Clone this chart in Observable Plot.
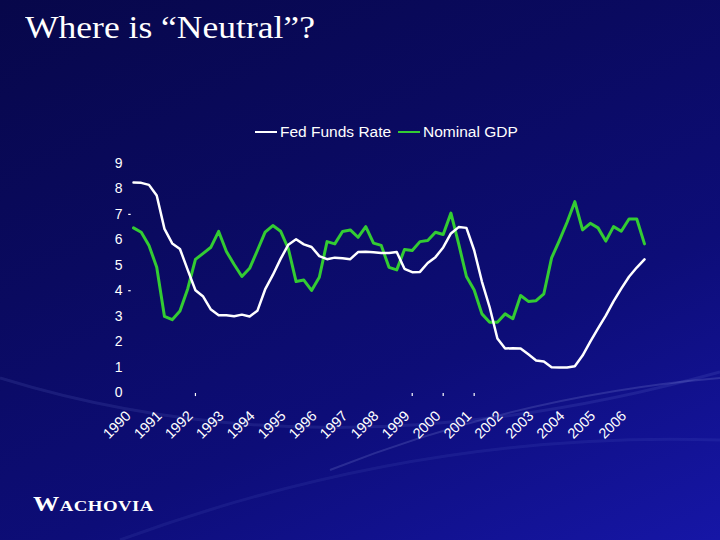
<!DOCTYPE html>
<html>
<head>
<meta charset="utf-8">
<script src="https://cdn.jsdelivr.net/npm/d3@7"></script>
<script src="https://cdn.jsdelivr.net/npm/@observablehq/plot@0.6"></script>
<style>
  html, body { margin: 0; padding: 0; background: #0a0a55; }
  #slide {
    position: relative; width: 720px; height: 540px; overflow: hidden;
    background: linear-gradient(155deg, #07074a 0%, #0a0a60 35%, #0d0d78 65%, #1616a6 100%);
    font-family: "Liberation Sans", Arial, sans-serif;
  }
  #deco { position: absolute; left: 0; top: 0; }
  #title {
    position: absolute; left: 25px; top: 9px; color: #fff;
    font-family: "Liberation Serif", "Times New Roman", serif; font-size: 32px; line-height: normal;
    white-space: nowrap; transform-origin: left top; transform: scaleX(1.11);
  }
  .leg { position: absolute; top: 122px; color: #fff; font-size: 15.5px; white-space: nowrap; line-height: 19px; }
  .sw { position: absolute; height: 2px; top: 131px; }
  #chart { position: absolute; left: 0; top: 0; }
  #logo {
    position: absolute; left: 33px; top: 492px; color: #fff;
    font-family: "Liberation Serif", "Times New Roman", serif; font-weight: bold;
    font-size: 21px; font-variant: small-caps; letter-spacing: 0.4px; line-height: normal;
    transform-origin: left top; transform: scaleX(1.25); white-space: nowrap;
  }
</style>
</head>
<body>
<div id="slide">
  <svg id="deco" width="720" height="540">
    <path d="M0,378 Q330,480 720,372" fill="none" stroke="#9fb0ff" stroke-opacity="0.11" stroke-width="3"/>
    <path d="M330,470 Q520,395 720,378" fill="none" stroke="#b8c4ff" stroke-opacity="0.16" stroke-width="2"/>
    <path d="M120,540 Q420,430 720,440" fill="none" stroke="#9fb0ff" stroke-opacity="0.08" stroke-width="3"/>
  </svg>
  <div id="title">Where is “Neutral”?</div>
  <div class="sw" style="left:255px;width:22px;background:#ffffff;"></div>
  <div class="leg" style="left:280px;">Fed Funds Rate</div>
  <div class="sw" style="left:398px;width:22px;background:#33cc33;"></div>
  <div class="leg" style="left:423px;">Nominal GDP</div>
  <div id="chart"></div>
  <div id="logo">Wachovia</div>
</div>
<script>
// Quarterly data, 1990Q1 .. 2006Q3
const years = ["1990","1991","1992","1993","1994","1995","1996","1997","1998","1999","2000","2001","2002","2003","2004","2005","2006"];
const fedFunds = [
  8.25, 8.24, 8.16, 7.74,
  6.43, 5.86, 5.64, 4.82,
  4.02, 3.77, 3.26, 3.04,
  3.04, 3.00, 3.06, 2.99,
  3.21, 4.05, 4.62, 5.25,
  5.81, 6.02, 5.82, 5.72,
  5.36, 5.24, 5.30, 5.28,
  5.24, 5.52, 5.53, 5.51,
  5.48, 5.48, 5.52, 4.86,
  4.73, 4.74, 5.09, 5.32,
  5.70, 6.25, 6.50, 6.47,
  5.59, 4.36, 3.35, 2.12,
  1.73, 1.74, 1.73, 1.50,
  1.26, 1.22, 0.99, 0.98,
  0.98, 1.03, 1.45, 2.00,
  2.52, 3.02, 3.58, 4.08,
  4.55, 4.91, 5.23
];
const nominalGDP = [
  6.47, 6.30, 5.78, 4.92,
  2.99, 2.86, 3.20, 4.07,
  5.23, 5.47, 5.71, 6.33,
  5.54, 5.03, 4.56, 4.88,
  5.58, 6.30, 6.56, 6.34,
  5.65, 4.36, 4.42, 4.01,
  4.53, 5.93, 5.84, 6.33,
  6.39, 6.10, 6.52, 5.87,
  5.78, 4.92, 4.82, 5.62,
  5.58, 5.93, 5.97, 6.30,
  6.21, 7.05, 5.84, 4.56,
  4.03, 3.09, 2.76, 2.76,
  3.09, 2.90, 3.81, 3.58,
  3.61, 3.88, 5.29, 5.97,
  6.69, 7.50, 6.39, 6.65,
  6.47, 5.95, 6.52, 6.34,
  6.82, 6.82, 5.84
];
const yTickMarks = [7, 4];
const xTickMarkYears = ["1992","1999","2000","2001"];

const fedData = fedFunds.map((v, i) => ({i, v}));
const gdpData = nominalGDP.map((v, i) => ({i, v}));
const yearData = years.map((y, k) => ({i: k * 4, label: y}));
const xTickData = xTickMarkYears.map(y => ({i: years.indexOf(y) * 4}));

const chart = Plot.plot({
  width: 720,
  height: 540,
  marginTop: 163,
  marginBottom: 148,
  marginLeft: 133,
  marginRight: 76,
  style: {background: "transparent", color: "#ffffff", fontFamily: "Liberation Sans, Arial, sans-serif", fontSize: "14px", overflow: "visible"},
  x: {domain: [0, fedFunds.length - 1], axis: null},
  y: {domain: [0, 9], ticks: 10, tickSize: 0, tickPadding: 11, label: null, tickFormat: d => String(d)},
  marks: [
    Plot.ruleY(yTickMarks, {x1: -0.62, x2: -0.3, stroke: "#ffffff", strokeWidth: 1.2}),
    Plot.ruleX(xTickData, {x: "i", y1: -0.04, y2: -0.16, stroke: "#ffffff", strokeWidth: 1.2}),
    Plot.line(gdpData, {x: "i", y: "v", stroke: "#33cc33", strokeWidth: 3, strokeLinejoin: "round"}),
    Plot.line(fedData, {x: "i", y: "v", stroke: "#ffffff", strokeWidth: 2.5, strokeLinejoin: "round"}),
    Plot.text(yearData, {x: "i", y: 0, text: "label", rotate: -45, textAnchor: "end", dx: -5, dy: 21, fill: "#ffffff", fontSize: 14.5})
  ]
});
document.getElementById("chart").appendChild(chart);
</script>
</body>
</html>
